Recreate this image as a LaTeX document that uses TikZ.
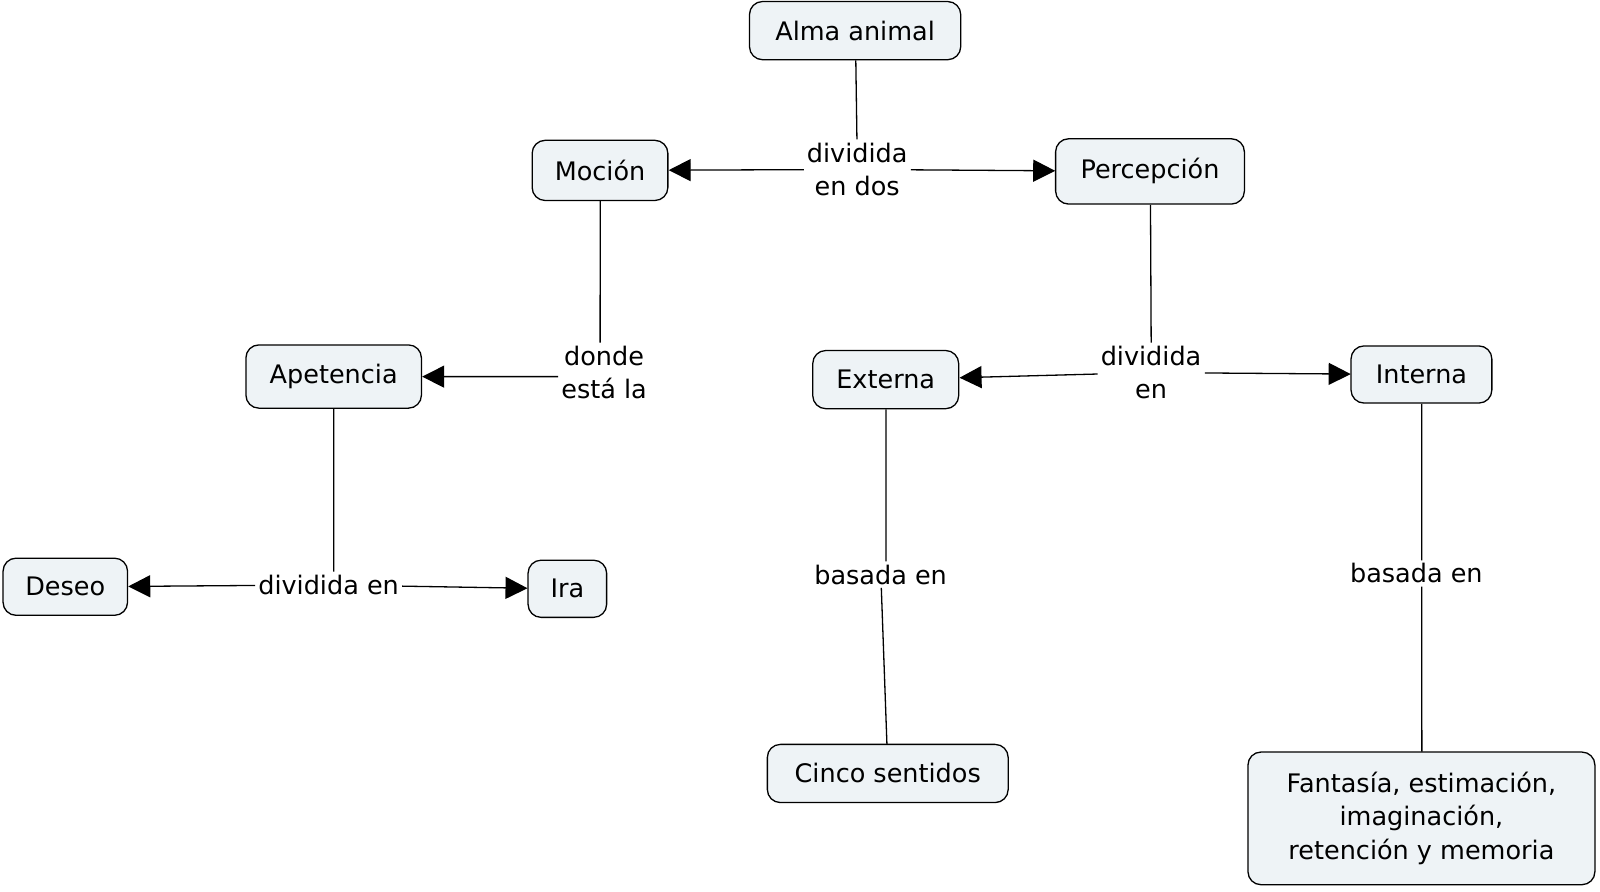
\documentclass[tikz,border=0pt]{standalone}
\usepackage{fontspec}
\setmainfont{DejaVu Sans}
\usetikzlibrary{arrows.meta}
\begin{document}
\begin{tikzpicture}[x=1pt,y=-1pt,scale=1.0204,transform shape,
  concept/.style={draw=black,line width=1.3pt,rounded corners=13pt,fill=boxfill,align=center,
    font=\fontsize{25}{33}\selectfont,inner sep=0pt},
  lbl/.style={align=center,font=\fontsize{25}{33}\selectfont,inner sep=3pt,fill=white},
  conn/.style={line width=1.3pt},
  arr/.style={line width=1.3pt,-{Triangle[length=22pt,width=22pt]}}]
\definecolor{boxfill}{HTML}{EEF3F6}
\useasboundingbox (0,0) rectangle (1568,874);
\node[concept,minimum width=207pt,minimum height=57pt] (alma) at (838,30) {Alma animal};
\node[concept,minimum width=133pt,minimum height=59pt] (mocion) at (588,167) {Moción};
\node[concept,minimum width=185pt,minimum height=64pt] (perc) at (1127,168) {Percepción};
\node[concept,minimum width=172pt,minimum height=62pt] (apet) at (327,369) {Apetencia};
\node[concept,minimum width=143pt,minimum height=57pt] (ext) at (868,372) {Externa};
\node[concept,minimum width=138pt,minimum height=56pt] (int) at (1393,367) {Interna};
\node[concept,minimum width=122pt,minimum height=56pt] (deseo) at (64,575) {Deseo};
\node[concept,minimum width=77pt,minimum height=56pt] (ira) at (556,577) {Ira};
\node[concept,minimum width=236pt,minimum height=57pt] (cinco) at (870,758) {Cinco sentidos};
\node[concept,minimum width=340pt,minimum height=130pt] (fant) at (1393,802) {Fantasía, estimación,\\imaginación,\\retención y memoria};

\node[lbl] (l1) at (840,166) {dividida\\en dos};
\node[lbl] (l2) at (592,365) {donde\\está la};
\node[lbl] (l3) at (1128,365) {dividida\\en};
\node[lbl] (l4) at (322,573) {dividida en};
\node[lbl] (l5) at (863,563) {basada en};
\node[lbl] (l6) at (1388,562) {basada en};

\draw[conn] (alma) -- (l1);
\draw[arr] (l1) -- (mocion);
\draw[arr] (l1) -- (perc);
\draw[conn] (mocion) -- (mocion|-l2.north);
\draw[arr] (l2.west|-apet) -- (apet);
\draw[conn] (perc) -- (l3);
\draw[arr] (l3) -- (ext);
\draw[arr] (l3) -- (int);
\draw[conn] (apet) -- (apet|-l4.north);
\draw[arr] (l4) -- (deseo);
\draw[arr] (l4) -- (ira);
\draw[conn] (ext) -- (ext|-l5.north);
\draw[conn] (l5) -- (cinco);
\draw[conn] (int) -- (int|-l6.north);
\draw[conn] (int|-l6.south) -- (fant);
\end{tikzpicture}
\end{document}
